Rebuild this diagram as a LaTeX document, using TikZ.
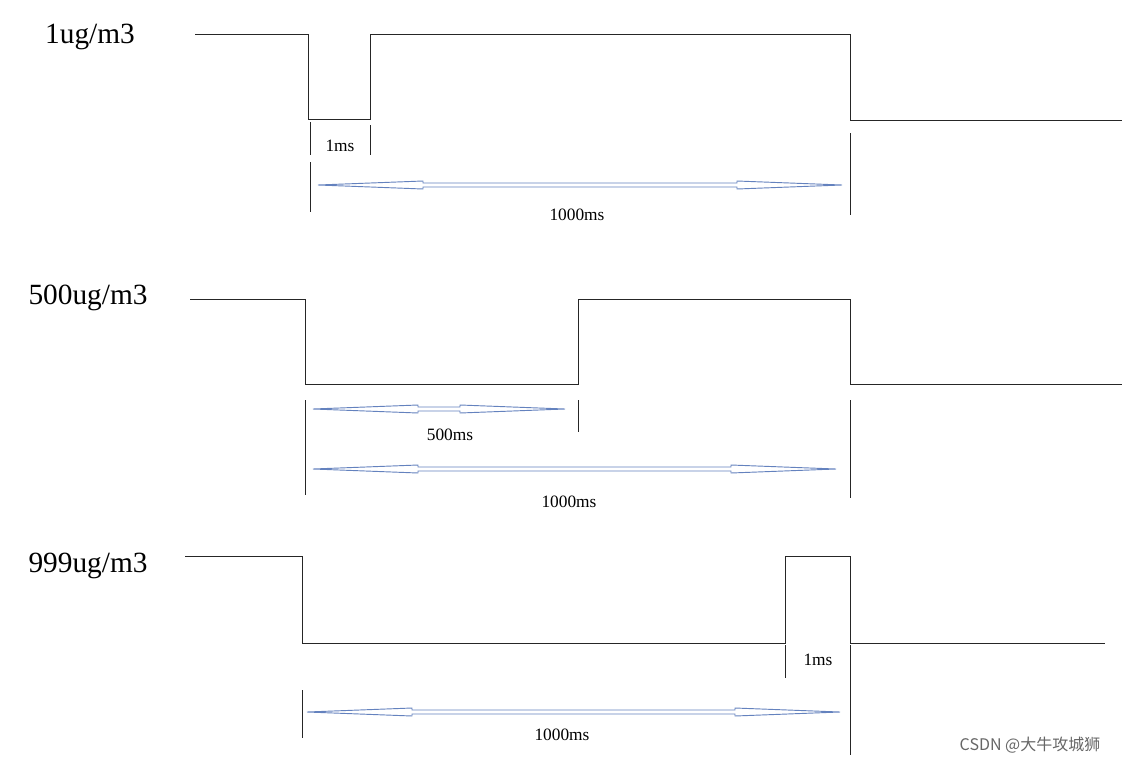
\documentclass[tikz,border=0pt]{standalone}
\usepackage{fontspec}
\setmainfont{Liberation Serif}
\newfontfamily\cjk{Noto Sans CJK SC}
\begin{document}
\begin{tikzpicture}[x=0.75pt,y=-0.75pt,
  wave/.style={line width=0.75pt,black!85},
  tick/.style={line width=0.6pt,black!85},
  darr/.style={draw={rgb,255:red,100;green,130;blue,190},fill=white,line width=0.7pt},
  big/.style={font=\fontsize{22}{24}\selectfont},
  small/.style={font=\fontsize{13}{14}\selectfont}]
\useasboundingbox (0,0) rectangle (1124,764);
\newcommand{\dbl}[3]{% x1 x2 y
  \draw[darr] (#1,#3) -- (#1+105,#3-4) -- (#1+105,#3-2) -- (#2-105,#3-2) -- (#2-105,#3-4) -- (#2,#3)
   -- (#2-105,#3+4) -- (#2-105,#3+2) -- (#1+105,#3+2) -- (#1+105,#3+4) -- cycle;}
% wave 1
\node[big] (l1) at (90,37) {1ug/m3};
\draw[wave] (195,34) -- (308,34) -- (308,119) -- (370,119) -- (370,34) -- (850,34) -- (850,120) -- (1122,120);
\draw[tick] (310,122) -- (310,155) (310,162) -- (310,212) (370,125) -- (370,155) (850,133) -- (850,215);
\dbl{318}{842}{185}
\node[small] (a1) at (340,146) {1ms};
\node[small] (b1) at (577,215) {1000ms};
% wave 2
\node[big] (l2) at (88,298) {500ug/m3};
\draw[wave] (190,299) -- (305,299) -- (305,384) -- (578,384) -- (578,299) -- (850,299) -- (850,384) -- (1122,384);
\draw[tick] (305,400) -- (305,495) (578,400) -- (578,432) (850,400) -- (850,498);
\dbl{313}{565}{409}
\dbl{313}{836}{469}
\node[small] (a2) at (450,435) {500ms};
\node[small] (b2) at (569,502) {1000ms};
% wave 3
\node[big] (l3) at (88,566) {999ug/m3};
\draw[wave] (185,556) -- (302,556) -- (302,643) -- (785,643) -- (785,556) -- (850,556) -- (850,643) -- (1105,643);
\draw[tick] (785,645) -- (785,678) (850,645) -- (850,755) (302,690) -- (302,738);
\dbl{307}{840}{712}
\node[small] (a3) at (818,660) {1ms};
\node[small] (b3) at (562,735) {1000ms};
\node[font=\cjk\fontsize{12}{14}\selectfont,text=black!60] (wm) at (1030,745) {CSDN @大牛攻城狮};
\end{tikzpicture}
\end{document}
